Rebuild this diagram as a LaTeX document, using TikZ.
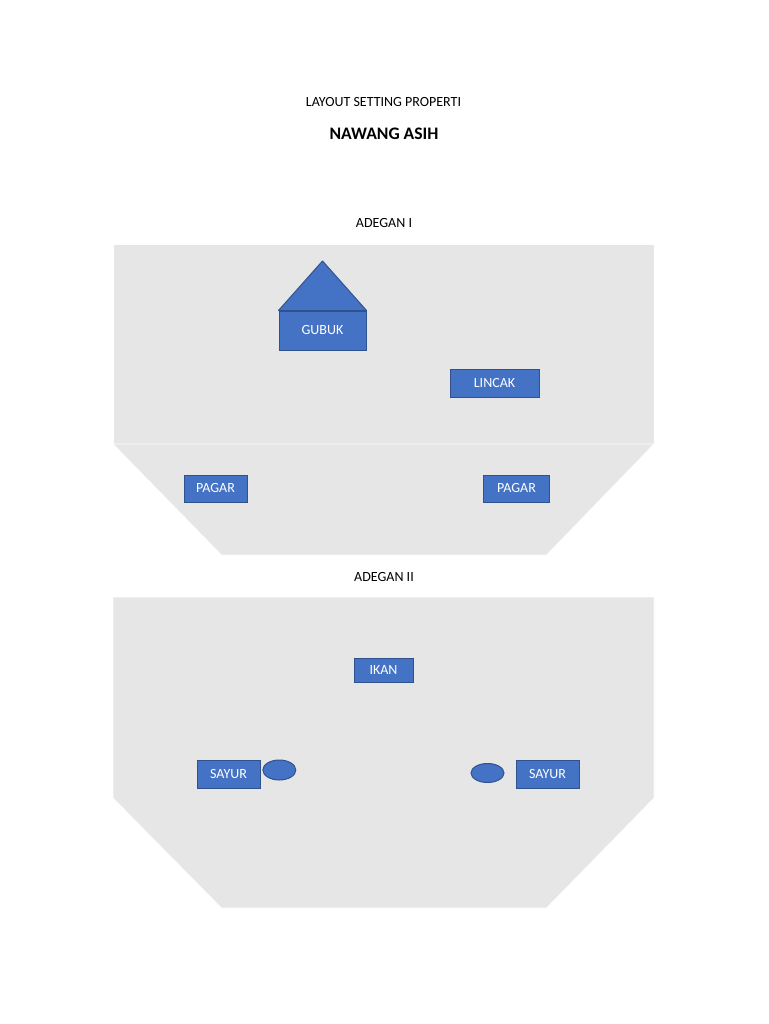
\documentclass[tikz,border=0pt]{standalone}
\usepackage{fontspec}
\setmainfont{Carlito}
\usetikzlibrary{shapes.geometric}

\definecolor{stagegrey}{HTML}{E7E6E6}
\definecolor{propblue}{HTML}{4472C4}
\definecolor{propline}{HTML}{2F528F}

\begin{document}
\begin{tikzpicture}[x=1pt,y=-1pt,
  prop node/.style={rectangle,fill=propblue,draw=propline,line width=1pt,inner sep=0pt,
    text=white,font=\fontsize{14}{16}\selectfont},
  text node/.style={inner sep=0pt,font=\fontsize{14}{16}\selectfont},
  stage/.style={fill=stagegrey,draw=white,line width=0.6pt}]

  \useasboundingbox[fill=white] (0,0) rectangle (768,1024);

  % judul
  \node[text node] (title) at (383.5,102) {LAYOUT SETTING PROPERTI};
  \node[text node,font=\fontsize{17.6}{20}\selectfont\bfseries] (subtitle) at (384,134) {NAWANG ASIH};

  % adegan I
  \node[text node] (act1) at (384,223) {ADEGAN I};
  \fill[stage] (113,244) rectangle (654,444);
  \fill[stage] (113,444) -- (654,444) -- (546.5,555) -- (221.5,555) -- cycle;

  \node[prop node,minimum width=87pt,minimum height=39pt] (gubuk) at (322.5,330.5) {GUBUK};
  \coordinate (roof) at (322.5,261);
  \filldraw[fill=propblue,draw=propline,line width=1pt,line join=round]
    (gubuk.north west) -- (roof) -- (gubuk.north east) -- cycle;
  \node[prop node,minimum width=89pt,minimum height=28pt] (lincak) at (494.5,383.5) {LINCAK};
  \node[prop node,minimum width=63pt,minimum height=27pt] (pagar1) at (215.5,488.5) {PAGAR};
  \node[prop node,minimum width=66pt,minimum height=27pt] (pagar2) at (516.5,488.5) {PAGAR};

  % adegan II
  \node[text node] (act2) at (384,577) {ADEGAN II};
  \fill[stage] (113,597) -- (654,597) -- (654,798) -- (546.5,908) -- (221.5,908) -- (113,798) -- cycle;

  \node[prop node,minimum width=59pt,minimum height=24pt] (ikan) at (383.5,670) {IKAN};
  \node[prop node,minimum width=63pt,minimum height=28pt] (sayur1) at (228.5,774) {SAYUR};
  \node[prop node,minimum width=63pt,minimum height=28pt] (sayur2) at (547.5,774) {SAYUR};
  \node[prop node,ellipse,minimum width=33pt,minimum height=20pt] (bowl1) at (279.3,770) {};
  \node[prop node,ellipse,minimum width=33pt,minimum height=19pt] (bowl2) at (487.5,773) {};
\end{tikzpicture}
\end{document}
